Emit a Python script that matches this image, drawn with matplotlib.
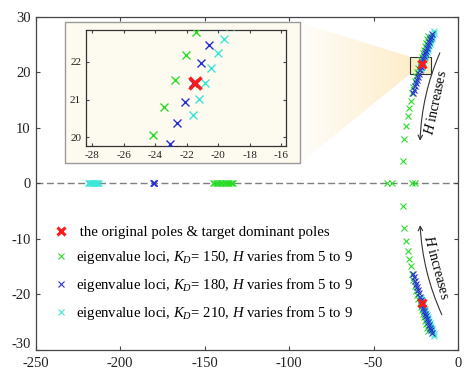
import numpy as np
import matplotlib
matplotlib.use('Agg')
import matplotlib.pyplot as plt
import matplotlib.transforms as mtransforms
from matplotlib.patches import Polygon, Rectangle, FancyArrowPatch
from matplotlib.lines import Line2D

plt.rcParams['font.family'] = ['Liberation Serif', 'DejaVu Serif']
plt.rcParams['mathtext.fontset'] = 'custom'
plt.rcParams['mathtext.rm'] = 'Liberation Serif'
plt.rcParams['mathtext.it'] = 'Liberation Serif:italic'
plt.rcParams['axes.unicode_minus'] = False

# upper-half complex eigenvalues (real part, imag part); lower half is the conjugate
kd150_re = [-17.5, -18.15, -18.8, -19.45, -20.1, -20.75, -21.4, -22.06, -22.77, -23.46,
            -24.15, -24.85, -25.6, -26.4, -27.2, -28.0, -28.9, -29.8, -30.8, -31.9, -32.4]
kd150_im = [26.6, 26.0, 25.4, 24.75, 24.1, 23.45, 22.78, 22.18, 21.52, 20.80,
            20.06, 19.3, 18.45, 17.45, 16.3, 14.95, 13.6, 12.2, 10.3, 8.05, 4.1]
kd150_real_axis = [-42.2, -39.2, -27.4, -25.4,
                   -145.0, -144.2, -143.4, -142.6, -141.8, -141.0, -140.2, -139.4, -138.6,
                   -137.8, -137.0, -136.2, -135.4, -134.6, -133.8, -133.0]

kd180_re = [-15.4, -16.0, -16.6, -17.2, -17.8, -18.35, -18.9, -19.45, -20.0, -20.56,
            -21.09, -21.6, -22.11, -22.59, -23.09, -23.6, -24.15, -24.75, -25.4, -26.1, -26.9]
kd180_im = [26.9, 26.45, 25.95, 25.45, 24.95, 24.45, 23.95, 23.45, 22.95, 22.44,
            21.96, 21.45, 20.94, 20.39, 19.81, 19.25, 18.7, 18.1, 17.5, 16.9, 16.3]
kd180_real_axis = [-180.3, -180.1, -179.9, -179.7]

kd210_re = [-14.05, -14.45, -14.85, -15.25, -15.65, -16.05, -16.45, -16.85, -17.25, -17.65,
            -18.05, -18.45, -18.85, -19.25, -19.63, -20.04, -20.44, -20.86, -21.23, -21.63]
kd210_im = [27.5, 27.15, 26.8, 26.45, 26.1, 25.75, 25.4, 25.05, 24.7, 24.35,
            24.0, 23.65, 23.3, 22.95, 22.6, 22.24, 21.84, 21.45, 21.01, 20.58]
kd210_real_axis = [-219.0, -218.5, -218.0, -217.5, -217.0, -216.5, -216.0, -215.5, -215.0,
                   -214.5, -214.0, -213.5, -213.0, -212.5]

target_re = [-21.5]
target_im = [21.45]

inset_xlim = (-28.4, -15.7)
inset_ylim = (19.77, 22.84)

c_green = '#2bdc2b'
c_blue = '#2430d0'
c_cyan = '#3ee6d6'
c_red = '#ff1a1a'


def draw_loci(ax, ms, mew, red_ms, red_mew):
    series = [(kd150_re, kd150_im, kd150_real_axis, c_green),
              (kd210_re, kd210_im, kd210_real_axis, c_cyan),
              (kd180_re, kd180_im, kd180_real_axis, c_blue)]
    for re, im, real_axis, col in series:
        re = np.array(re)
        im = np.array(im)
        ax.plot(np.r_[re, re, real_axis], np.r_[im, -im, np.zeros(len(real_axis))],
                'x', color=col, ms=ms, mew=mew, zorder=3)
    ax.plot(target_re + target_re, target_im + [-v for v in target_im], 'x',
            color=c_red, ms=red_ms, mew=red_mew, zorder=5)


fig = plt.figure(figsize=(4.74, 3.86), dpi=100)
ax = fig.add_axes([0.0749, 0.0933, 0.8914, 0.8627])

ax.axhline(0, color='#808080', lw=1.0, ls=(0, (5, 2.5)), zorder=1)
draw_loci(ax, 4, 0.8, 6, 2.2)

# zoom cone with gradient
x0, x1 = -93.5, inset_xlim[0]
cone = Polygon([(x0, 29.0), (x1, inset_ylim[1]), (x1, inset_ylim[0]), (x0, 3.6)],
               closed=True, facecolor='none', edgecolor='none')
ax.add_patch(cone)
grad = np.zeros((2, 256, 4))
grad[..., 0] = 0.99
grad[..., 1] = 0.86
grad[..., 2] = 0.58
grad[..., 3] = np.linspace(0.04, 0.5, 256)[None, :]
im = ax.imshow(grad, extent=[x0, x1, 3.6, 29.0], aspect='auto', origin='lower', zorder=0)
im.set_clip_path(cone)
ax.add_patch(Rectangle((inset_xlim[0], inset_ylim[0]), inset_xlim[1] - inset_xlim[0],
                       inset_ylim[1] - inset_ylim[0], facecolor='#f9efc6',
                       edgecolor='#333333', lw=0.8, zorder=2))

# H increases arrows and text
ax.add_patch(FancyArrowPatch((-10.1, 24.0), (-22.5, 7.2), arrowstyle='->',
                             mutation_scale=8, connectionstyle='arc3,rad=0.1',
                             color='#333333', lw=0.8))
ax.add_patch(FancyArrowPatch((-8.9, -24.1), (-22.5, -7.0), arrowstyle='->',
                             mutation_scale=8, connectionstyle='arc3,rad=-0.1',
                             color='#333333', lw=0.8))
ax.text(-13.0, 14.6, r'$H$ increases', rotation=78, ha='center', va='center',
        rotation_mode='anchor', fontsize=10)
ax.text(-13.0, -15.1, r'$H$ increases', rotation=-75, ha='center', va='center',
        rotation_mode='anchor', fontsize=10)

ax.set_xlim(-250, 0)
ax.set_ylim(-30, 30)
ax.set_xticks([-250, -200, -150, -100, -50, 0])
ax.set_yticks([-30, -20, -10, 0, 10, 20, 30])
ax.tick_params(direction='in', top=True, right=True, labelsize=10.5, length=3,
               color='#444444', labelcolor='#222222')
ax.tick_params(axis='x', pad=5)
for s in ax.spines.values():
    s.set_color('#444444')
    s.set_linewidth(0.9)
# lift the -30 label off the corner like the original
lbl = ax.get_yticklabels()[0]
lbl.set_transform(lbl.get_transform() + mtransforms.ScaledTranslation(0, 5 / 72, fig.dpi_scale_trans))

handles = [Line2D([], [], ls='none', marker='x', color=c_red, ms=6, mew=2.2),
           Line2D([], [], ls='none', marker='x', color=c_green, ms=5, mew=0.8),
           Line2D([], [], ls='none', marker='x', color=c_blue, ms=5, mew=0.8),
           Line2D([], [], ls='none', marker='x', color=c_cyan, ms=5, mew=0.8)]
labels = [' the original poles & target dominant poles',
          r'eigenvalue loci, $K_D$= 150, $H$ varies from 5 to 9',
          r'eigenvalue loci, $K_D$= 180, $H$ varies from 5 to 9',
          r'eigenvalue loci, $K_D$= 210, $H$ varies from 5 to 9']
ax.legend(handles, labels, loc='upper left', bbox_to_anchor=(0.018, 0.405), frameon=False,
          fontsize=10.6, handlelength=1.0, handletextpad=0.55, labelspacing=0.66,
          borderaxespad=0.3)

# inset panel
fig.patches.append(Rectangle((0.137, 0.578), 0.496, 0.365, transform=fig.transFigure,
                             facecolor='#fdfbef', edgecolor='#9a9a9a', lw=1.0, zorder=5))
axin = fig.add_axes([0.1814, 0.6218, 0.422, 0.3005], zorder=6)
axin.set_facecolor('#fdfbef')
draw_loci(axin, 6, 1.0, 8, 2.5)
axin.set_xlim(*inset_xlim)
axin.set_ylim(*inset_ylim)
axin.set_xticks([-28, -26, -24, -22, -20, -18, -16])
axin.set_yticks([20, 21, 22])
axin.tick_params(direction='in', top=True, right=True, labelsize=8, length=2.5,
                 color='#444444', labelcolor='#222222')
for s in axin.spines.values():
    s.set_color('#333333')
    s.set_linewidth(0.9)

fig.savefig('out.png', dpi=100)
